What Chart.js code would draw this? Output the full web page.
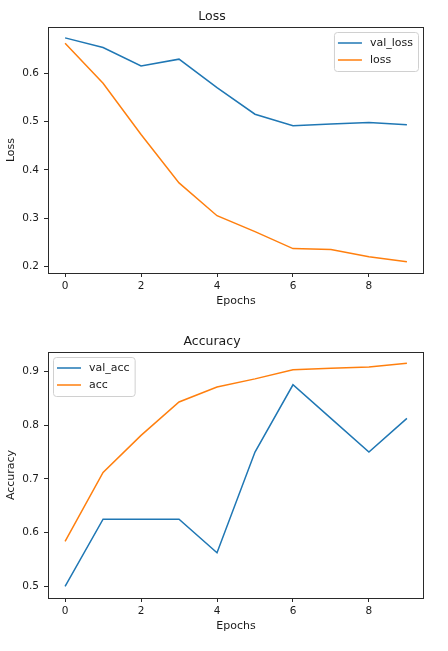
<!DOCTYPE html>
<html>
<head>
<meta charset="utf-8">
<script src="https://cdn.jsdelivr.net/npm/chart.js@4.4.0/dist/chart.umd.min.js"></script>
<style>
	html, body { margin: 0; padding: 0; background: #fff; }
	.wrap { position: relative; width: 448px; }
	canvas { display: block; }
</style>
</head>
<body>
<div class="wrap" style="height:325px"><canvas id="lossChart"></canvas></div>
<div class="wrap" style="height:326px"><canvas id="accChart"></canvas></div>
<script>
const epochs = [0, 1, 2, 3, 4, 5, 6, 7, 8, 9];
const valLoss = [0.673, 0.653, 0.615, 0.629, 0.570, 0.515, 0.491, 0.495, 0.498, 0.493];
const loss = [0.662, 0.579, 0.473, 0.373, 0.305, 0.272, 0.237, 0.235, 0.220, 0.210];
const valAcc = [0.500, 0.625, 0.625, 0.625, 0.5625, 0.750, 0.875, 0.8125, 0.750, 0.8125];
const acc = [0.584, 0.712, 0.781, 0.843, 0.871, 0.886, 0.903, 0.906, 0.908, 0.915];
const epochTicks = [0, 2, 4, 6, 8];
const lossTicks = [0.2, 0.3, 0.4, 0.5, 0.6];
const accTicks = [0.5, 0.6, 0.7, 0.8, 0.9];

const BLUE = '#1f77b4';
const ORANGE = '#ff7f0e';
const INK = '#1a1a1a';

Chart.defaults.font.family = '"DejaVu Sans", sans-serif';
Chart.defaults.color = INK;
Chart.defaults.animation = false;

// plot box edges (matplotlib spines)
const framePlugin = {
	id: 'frame',
	afterDatasetsDraw(chart) {
		const { ctx, chartArea: a } = chart;
		ctx.save();
		ctx.strokeStyle = '#2a2a2a';
		ctx.lineWidth = 1;
		ctx.strokeRect(Math.round(a.left) + 0.5, Math.round(a.top) + 0.5, Math.round(a.right - a.left) - 1, Math.round(a.bottom - a.top));
		ctx.restore();
	}
};

// legend drawn inside the plot, matplotlib style
const innerLegend = {
	id: 'innerLegend',
	afterDraw(chart, args, opts) {
		const { ctx, chartArea: a } = chart;
		const sets = chart.data.datasets;
		ctx.save();
		ctx.font = '11px "DejaVu Sans", sans-serif';
		const textW = Math.max(...sets.map(d => ctx.measureText(d.label).width));
		const w = 36 + textW + 5;
		const h = 39;
		const x = opts.side === 'right' ? a.right - 6 - w : a.left + 5;
		const y = a.top + 5;
		ctx.beginPath();
		ctx.roundRect(x + 0.5, y + 0.5, w, h, 3);
		ctx.fillStyle = 'rgba(255,255,255,0.8)';
		ctx.fill();
		ctx.strokeStyle = '#d0d0d0';
		ctx.lineWidth = 1;
		ctx.stroke();
		sets.forEach((d, i) => {
			const ly = y + 11 + i * 17;
			ctx.beginPath();
			ctx.moveTo(x + 4, ly);
			ctx.lineTo(x + 28, ly);
			ctx.strokeStyle = d.borderColor;
			ctx.lineWidth = 1.5;
			ctx.stroke();
			ctx.fillStyle = INK;
			ctx.textBaseline = 'middle';
			ctx.fillText(d.label, x + 36, ly);
		});
		ctx.restore();
	}
};

function makeChart(id, cfg) {
	const H = cfg.height;
	return new Chart(document.getElementById(id), {
		type: 'line',
		data: {
			datasets: cfg.series.map((s, i) => ({
				label: s.label,
				data: epochs.map((e, j) => ({ x: e, y: s.values[j] })),
				borderColor: s.color,
				borderWidth: 1.5,
				pointRadius: 0,
				tension: 0,
				fill: false,
				order: cfg.series.length - i
			}))
		},
		options: {
			responsive: true,
			maintainAspectRatio: false,
			layout: { padding: { left: 0, right: 24, top: 0, bottom: 0 } },
			plugins: {
				legend: { display: false },
				tooltip: { enabled: false },
				title: {
					display: true,
					text: cfg.title,
					color: INK,
					font: { size: 12.5, weight: 'normal', lineHeight: '14px' },
					padding: { top: 10, bottom: 3 }
				},
				innerLegend: { side: cfg.legendSide }
			},
			scales: {
				x: {
					type: 'linear',
					min: -0.45,
					max: 9.45,
					afterBuildTicks: s => { s.ticks = epochTicks.map(v => ({ value: v })); },
					afterFit: s => { s.height = H - 273; },
					border: { display: false },
					grid: { drawOnChartArea: false, drawTicks: true, tickLength: 4, tickColor: '#2a2a2a' },
					ticks: { font: { size: 10.5 }, padding: 3, maxRotation: 0, callback: v => String(v) },
					title: { display: true, text: 'Epochs', font: { size: 11, lineHeight: '13px' }, padding: { top: 0, bottom: H - 301.5 - 6.5 } }
				},
				y: {
					min: cfg.yMin,
					max: cfg.yMax,
					afterBuildTicks: s => { s.ticks = cfg.yTicks.map(v => ({ value: v })); },
					afterFit: s => { s.width = 48; },
					border: { display: false },
					grid: { drawOnChartArea: false, drawTicks: true, tickLength: 4, tickColor: '#2a2a2a' },
					ticks: { font: { size: 10.5 }, padding: 5, callback: v => v.toFixed(1) },
					title: { display: true, text: cfg.yLabel, font: { size: 11, lineHeight: '13px' }, padding: { top: 5, bottom: 0 } }
				}
			}
		},
		plugins: [framePlugin, innerLegend]
	});
}

makeChart('lossChart', {
	title: 'Loss',
	yLabel: 'Loss',
	height: 325,
	yMin: 0.1865,
	yMax: 0.6955,
	yTicks: lossTicks,
	legendSide: 'right',
	series: [
		{ label: 'val_loss', values: valLoss, color: BLUE },
		{ label: 'loss', values: loss, color: ORANGE }
	]
});

makeChart('accChart', {
	title: 'Accuracy',
	yLabel: 'Accuracy',
	height: 326,
	yMin: 0.4785,
	yMax: 0.936,
	yTicks: accTicks,
	legendSide: 'left',
	series: [
		{ label: 'val_acc', values: valAcc, color: BLUE },
		{ label: 'acc', values: acc, color: ORANGE }
	]
});
</script>
</body>
</html>
